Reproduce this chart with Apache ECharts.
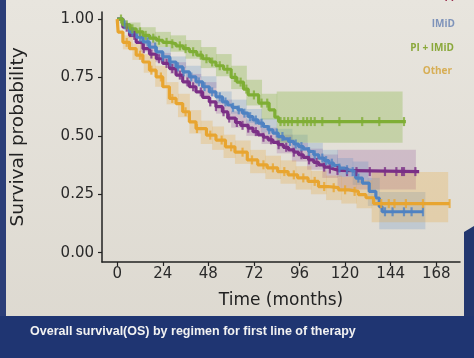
<!DOCTYPE html>
<html><head><meta charset="utf-8">
<script src="https://cdn.jsdelivr.net/npm/echarts@6/dist/echarts.min.js"></script>
<style>html,body{margin:0;padding:0;background:#e4e1d9;}#c{width:474px;height:358px;}</style>
</head><body><div id="c"></div>
<script>
// ---- data ----
const xTicks = [0, 24, 48, 72, 96, 120, 144, 168];
const yTicks = [0, 0.25, 0.5, 0.75, 1];
const groups = ['PI', 'IMiD', 'PI + IMiD', 'Other'];

// Kaplan-Meier steps (time in months, survival probability)
const piTimes = [0,3,6.5,10,13.6,17,20.6,24,27.6,31,34.5,38,41.5,45,48.5,52,55.4,58.2,62.3,65,68.9,71.5,74.2,77,79.5,82,84.8,87.5,90.2,93,95.5,98,100.8,103.5,106.1,109,111.4,114,116.8];
const piSurv  = [1,0.965,0.93,0.90,0.873,0.85,0.83,0.81,0.788,0.76,0.731,0.71,0.688,0.665,0.645,0.625,0.603,0.576,0.557,0.545,0.533,0.518,0.504,0.494,0.483,0.472,0.462,0.451,0.44,0.43,0.419,0.408,0.397,0.386,0.376,0.366,0.358,0.352,0.347];
const piEnd   = 159;
const piCens  = [5,9,14,18,22,26,29,33,37,40,44,49,52,56,59,63,66,69,73,77,81,85,89,93,97,101,105,109,112,116,121,126,133,141,147,150,151,157];

const imidTimes = [0,3,6.5,10,13.6,17,20.6,24,27.6,31,34.5,38,41.5,45,48.5,52,55.4,58.2,60.5,63.6,66,68.9,71.5,74.2,77,79.5,82,84.8,87.5,90.2,93,95.5,98,100.8,103.5,106.1,109,111.4,114,116.8,119.5,122,125.6,129.1,132.7,136.2,138,139.5];
const imidSurv  = [1,0.975,0.944,0.922,0.902,0.88,0.859,0.838,0.816,0.795,0.774,0.752,0.731,0.71,0.688,0.667,0.645,0.632,0.622,0.611,0.597,0.582,0.568,0.554,0.54,0.526,0.512,0.497,0.487,0.476,0.465,0.454,0.444,0.433,0.419,0.405,0.394,0.383,0.373,0.362,0.355,0.347,0.319,0.298,0.262,0.234,0.197,0.175];
const imidEnd   = 161;
const imidCens  = [4,8,12,16,20,24,28,32,35,39,43,46,50,54,57,61,64,67,70,73,76,80,84,87,91,94,97,101,104,108,110,113,117,121,124,127,141,145,151,155,161];

const comboTimes = [0,3,6.8,10,13.6,17,20.7,24,27.8,31,34.8,38,41.9,45,48.9,52,56,60,63,66.5,69,74.5,80,83,85];
const comboSurv  = [1,0.975,0.958,0.945,0.93,0.918,0.909,0.90,0.894,0.885,0.873,0.86,0.845,0.83,0.816,0.80,0.785,0.75,0.73,0.70,0.675,0.64,0.611,0.58,0.561];
const comboEnd   = 152;
const comboCens  = [2,5,8,12,15,19,22,26,29,33,36,40,44,47,50,54,58,62,65,68,72,76,79,86,88,90,92,95,98,100,102,104,108,117,129,138,151];

const otherTimes = [0,0.5,3,6.5,10,13.5,17,20.5,24,27.5,31,34.5,38,41.5,47,52,57,62,68.5,74,79,84.5,90,95,100.5,106,111,116.5,122,127,131,135];
const otherSurv  = [1,0.944,0.90,0.873,0.845,0.816,0.781,0.752,0.71,0.66,0.638,0.603,0.56,0.531,0.503,0.482,0.453,0.43,0.397,0.376,0.363,0.347,0.333,0.32,0.305,0.283,0.278,0.269,0.262,0.248,0.235,0.21];
const otherEnd   = 175;
const otherCens  = [5,12,18,23,29,36,42,49,55,60,66,71,77,82,88,93,98,104,109,114,120,125,139,143,146,152,161,175];

// 95% confidence bands (time, lower, upper)
const piBandT  = [0,6,12,20,28,36,44,52,60,68,76,84,92,100,108,116];
const piBandLo = [1,0.92,0.86,0.815,0.765,0.715,0.67,0.595,0.535,0.50,0.465,0.425,0.39,0.355,0.32,0.27];
const piBandHi = [1,0.95,0.90,0.855,0.815,0.765,0.73,0.655,0.605,0.57,0.535,0.505,0.47,0.445,0.42,0.44];
const piBandEnd = 157;

const imidBandT  = [0,6,12,20,28,36,44,52,60,68,76,84,92,100,108,116,124,132,138];
const imidBandLo = [1,0.93,0.89,0.84,0.79,0.75,0.705,0.64,0.595,0.555,0.515,0.47,0.435,0.40,0.36,0.325,0.29,0.20,0.10];
const imidBandHi = [1,0.96,0.93,0.88,0.84,0.80,0.755,0.69,0.655,0.615,0.575,0.53,0.505,0.47,0.44,0.405,0.39,0.32,0.26];
const imidBandEnd = 162;

const comboBandT  = [0,6,12,20,28,36,44,52,60,68,76,84];
const comboBandLo = [1,0.94,0.91,0.88,0.86,0.83,0.79,0.755,0.70,0.63,0.57,0.47];
const comboBandHi = [1,0.985,0.965,0.945,0.93,0.91,0.88,0.85,0.80,0.74,0.68,0.69];
const comboBandEnd = 150;

const otherBandT  = [0,3,8,14,20,26,32,38,44,50,56,62,70,78,86,94,102,110,118,126,134];
const otherBandLo = [1,0.87,0.825,0.77,0.71,0.635,0.58,0.51,0.465,0.44,0.405,0.38,0.34,0.315,0.295,0.27,0.25,0.225,0.21,0.19,0.13];
const otherBandHi = [1,0.93,0.895,0.85,0.80,0.73,0.68,0.61,0.565,0.54,0.505,0.48,0.44,0.415,0.395,0.37,0.35,0.33,0.325,0.31,0.345];
const otherBandEnd = 174;

const colors = ['#7b2f86', '#4f82c2', '#7fae35', '#e8a530'];
const bandColors = ['rgba(123,47,134,0.20)', 'rgba(79,130,194,0.22)', 'rgba(127,174,53,0.30)', 'rgba(232,165,48,0.25)'];
const legendColors = ['#9a2f4e', '#7e93ba', '#8aa83a', '#d7ae55'];

const sets = [
  {t: piTimes, s: piSurv, end: piEnd, c: piCens, bt: piBandT, lo: piBandLo, hi: piBandHi, bend: piBandEnd},
  {t: imidTimes, s: imidSurv, end: imidEnd, c: imidCens, bt: imidBandT, lo: imidBandLo, hi: imidBandHi, bend: imidBandEnd},
  {t: comboTimes, s: comboSurv, end: comboEnd, c: comboCens, bt: comboBandT, lo: comboBandLo, hi: comboBandHi, bend: comboBandEnd},
  {t: otherTimes, s: otherSurv, end: otherEnd, c: otherCens, bt: otherBandT, lo: otherBandLo, hi: otherBandHi, bend: otherBandEnd}
];

function survAt(g, x) {
  let v = g.s[0];
  for (let i = 0; i < g.t.length; i++) { if (g.t[i] <= x) v = g.s[i]; }
  return v;
}

const series = [];
sets.forEach((g, k) => {
  const bands = g.bt.map((t, i) => [t, i + 1 < g.bt.length ? g.bt[i + 1] : g.bend, g.lo[i], g.hi[i]]);
  series.push({
    type: 'custom', name: groups[k] + ' CI', data: bands, z: 1, silent: true,
    encode: {x: [0, 1], y: [2, 3]},
    renderItem: function (params, api) {
      const p1 = api.coord([api.value(0), api.value(3)]);
      const p2 = api.coord([api.value(1), api.value(2)]);
      return {type: 'rect', shape: {x: p1[0], y: p1[1], width: p2[0] - p1[0] + 0.5, height: p2[1] - p1[1]},
        style: {fill: bandColors[k]}};
    }
  });
});
sets.forEach((g, k) => {
  const pts = g.t.map((t, i) => [t, g.s[i]]);
  pts.push([g.end, g.s[g.s.length - 1]]);
  series.push({
    type: 'line', name: groups[k], step: 'end', data: pts, showSymbol: false, z: 3,
    lineStyle: {color: colors[k], width: 3.2}, itemStyle: {color: colors[k]}, silent: true
  });
  series.push({
    type: 'scatter', name: groups[k] + ' censored', z: 4, silent: true,
    data: g.c.map(x => [x, survAt(g, x)]),
    symbol: 'rect', symbolSize: [2.2, 9], itemStyle: {color: colors[k]}
  });
});

const chart = echarts.init(document.getElementById('c'), null, {renderer: 'canvas'});
const axisFont = 'DejaVu Sans';
chart.setOption({
  backgroundColor: {type: 'linear', x: 0, y: 0, x2: 0, y2: 1,
    colorStops: [{offset: 0, color: '#e8e5de'}, {offset: 1, color: '#dcd8cf'}]},
  animation: false,
  grid: {left: 102, right: 14, top: 12, bottom: 96, outerBoundsMode: 'none', containLabel: false},
  xAxis: {
    type: 'value', min: -8, max: 180.5,
    name: 'Time (months)', nameLocation: 'middle', nameGap: 30,
    nameTextStyle: {fontFamily: axisFont, fontSize: 17, color: '#222'},
    axisLine: {onZero: false, lineStyle: {color: '#222', width: 1.5}},
    axisTick: {customValues: xTicks, length: 4, lineStyle: {color: '#222', width: 1.2}},
    axisLabel: {customValues: xTicks, fontFamily: axisFont, fontSize: 15, color: '#2a2a2a', margin: 5},
    splitLine: {show: false}
  },
  yAxis: {
    type: 'value', min: -0.04, max: 1.03,
    name: 'Survival probability', nameLocation: 'middle', nameGap: 74, nameRotate: 90,
    nameTextStyle: {fontFamily: axisFont, fontSize: 18.5, color: '#222'},
    axisLine: {show: true, onZero: false, lineStyle: {color: '#222', width: 1.5}},
    axisTick: {show: true, customValues: yTicks, length: 4, lineStyle: {color: '#222', width: 1.2}},
    axisLabel: {customValues: yTicks, fontFamily: axisFont, fontSize: 15, color: '#2a2a2a', margin: 8,
      formatter: v => v.toFixed(2)},
    splitLine: {show: false}
  },
  series: series,
  graphic: [
    {type: 'rect', shape: {x: 0, y: 316, width: 474, height: 42}, style: {fill: '#1f3572'}, z: 10},
    {type: 'rect', shape: {x: 0, y: 0, width: 6, height: 316}, style: {fill: '#2b3e78'}, z: 10},
    {type: 'polygon', shape: {points: [[464, 232], [474, 226], [474, 316], [464, 316]]}, style: {fill: '#23376f'}, z: 10},
    {type: 'text', x: 30, y: 332, style: {text: 'Overall survival(OS) by regimen for first line of therapy',
      fill: '#f2f2f2', font: 'bold 12.5px "Liberation Sans", Arial, sans-serif', textVerticalAlign: 'middle'}, z: 11},
    {type: 'text', x: 454, y: -2, style: {text: groups[0], fill: legendColors[0], font: 'bold 10px "Open Sans", sans-serif', textAlign: 'right', textVerticalAlign: 'middle'}, z: 11},
    {type: 'text', x: 455, y: 24, style: {text: groups[1], fill: legendColors[1], font: 'bold 10px "Open Sans", sans-serif', textAlign: 'right', textVerticalAlign: 'middle'}, z: 11},
    {type: 'text', x: 454, y: 48, style: {text: groups[2], fill: legendColors[2], font: 'bold 10px "Open Sans", sans-serif', textAlign: 'right', textVerticalAlign: 'middle'}, z: 11},
    {type: 'text', x: 452, y: 71, style: {text: groups[3], fill: legendColors[3], font: 'bold 10px "Open Sans", sans-serif', textAlign: 'right', textVerticalAlign: 'middle'}, z: 11}
  ]
});
</script></body></html>
